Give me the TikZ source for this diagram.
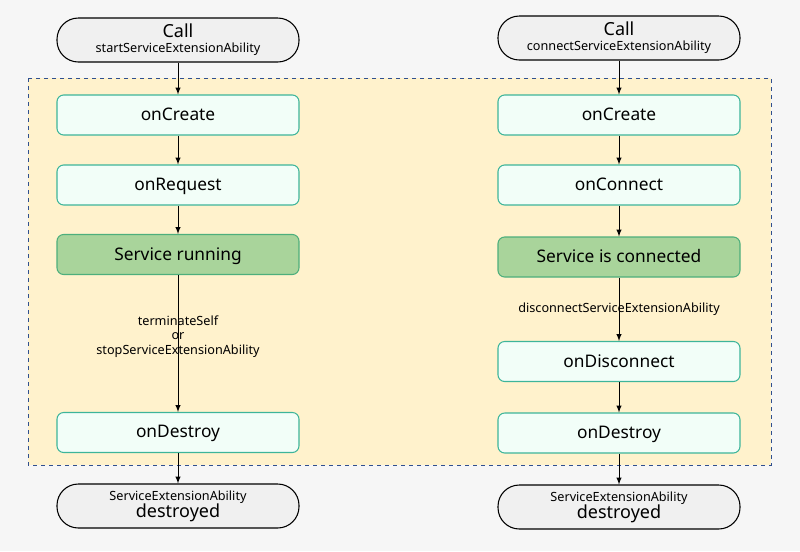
\documentclass[tikz,border=0pt]{standalone}
\usepackage{fontspec}
\setmainfont{Noto Sans}
\usetikzlibrary{math}
\definecolor{bggray}{HTML}{F6F6F6}
\definecolor{areafill}{HTML}{FFF2CC}
\definecolor{arealine}{HTML}{2F4F8F}
\definecolor{boxfill}{HTML}{F2FEF8}
\definecolor{boxline}{HTML}{3DB59A}
\definecolor{runfill}{HTML}{A9D49B}
\definecolor{runline}{HTML}{4DAF7C}
\definecolor{endfill}{HTML}{F0F0F0}

\begin{document}
\begin{tikzpicture}[x=0.75pt,y=-0.75pt,
    box/.style={draw=boxline, fill=boxfill, line width=0.8pt, rounded corners=5pt,
      minimum width=181.5pt, minimum height=30pt, text depth=0.25ex, font=\fontsize{13}{15}\selectfont},
    runbox/.style={box, draw=runline, fill=runfill},
    endbox/.style={draw=black, fill=endfill, line width=0.8pt, rounded corners=16pt,
      minimum width=181.5pt, minimum height=33pt, align=center, inner sep=1pt},
    arrow/.style={-latex, line width=0.75pt}]
      \tikzmath{\lx = 178; \rx = 619;}
      \useasboundingbox (0,0) rectangle (800,551);
      \fill[bggray] (0,0) rectangle (800,551);
      \draw[arealine, fill=areafill, dashed, line width=0.6pt] (28,78) rectangle (771,465);
      % left column
      \node[endbox] (lcall) at (\lx,40) {{\fontsize{13.5}{14}\selectfont Call}\\[-1pt]{\fontsize{9.5}{10}\selectfont startServiceExtensionAbility}};
      \node[box] (lcreate) at (\lx,115) {onCreate};
      \node[box] (lrequest) at (\lx,185) {onRequest};
      \node[runbox] (lrun) at (\lx,254.5) {Service running};
      \node[box] (ldestroy) at (\lx,432.5) {onDestroy};
      \node[endbox] (lend) at (\lx,506) {{\fontsize{9.5}{10}\selectfont ServiceExtensionAbility}\\[-1pt]{\fontsize{13.5}{14}\selectfont destroyed}};
      \draw[arrow] (lcall) -- (lcreate);
      \draw[arrow] (lcreate) -- (lrequest);
      \draw[arrow] (lrequest) -- (lrun);
      \draw[arrow] (lrun) -- (ldestroy) node[pos=0.45, align=center, font=\fontsize{9.5}{11}\selectfont] {terminateSelf\\or\\stopServiceExtensionAbility};
      \draw[arrow] (ldestroy) -- (lend);
      % right column
      \node[endbox] (rcall) at (\rx,38) {{\fontsize{13.5}{14}\selectfont Call}\\[-1pt]{\fontsize{9.5}{10}\selectfont connectServiceExtensionAbility}};
      \node[box] (rcreate) at (\rx,115) {onCreate};
      \node[box] (rconnect) at (\rx,185) {onConnect};
      \node[runbox] (rrun) at (\rx,257) {Service is connected};
      \node[box] (rdisconnect) at (\rx,361.5) {onDisconnect};
      \node[box] (rdestroy) at (\rx,433) {onDestroy};
      \node[endbox] (rend) at (\rx,507) {{\fontsize{9.5}{10}\selectfont ServiceExtensionAbility}\\[-1pt]{\fontsize{13.5}{14}\selectfont destroyed}};
      \draw[arrow] (rcall) -- (rcreate);
      \draw[arrow] (rcreate) -- (rconnect);
      \draw[arrow] (rconnect) -- (rrun);
      \draw[arrow] (rrun) -- (rdisconnect) node[midway, font=\fontsize{9.5}{11}\selectfont] {disconnectServiceExtensionAbility};
      \draw[arrow] (rdisconnect) -- (rdestroy);
      \draw[arrow] (rdestroy) -- (rend);
    \end{tikzpicture}
\end{document}
